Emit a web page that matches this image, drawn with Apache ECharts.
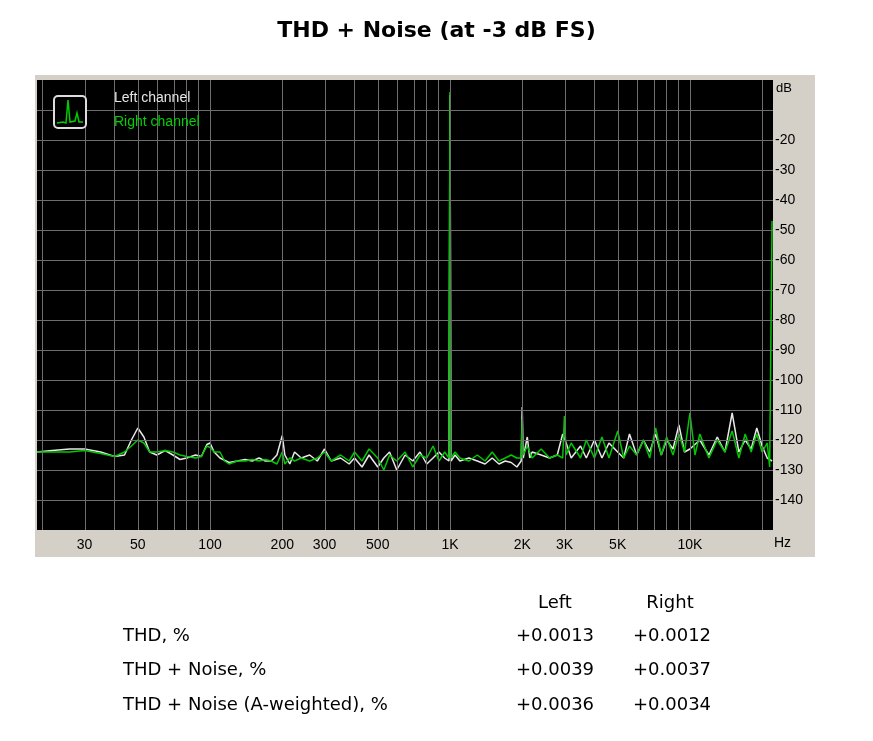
<!DOCTYPE html>
<html><head><meta charset="utf-8">
<script src="https://cdn.jsdelivr.net/npm/echarts@6/dist/echarts.min.js"></script>
<style>html,body{margin:0;padding:0;background:#fff}#c{width:873px;height:741px}</style>
</head><body><div id="c"></div>
<script>
const leftChannel = [[19,-124],[22,-123.5],[26,-123],[30,-123],[35,-124],[40,-125.5],[44,-125],[47,-120],[50,-116],[53,-119],[56,-124],[60,-125],[65,-123.5],[70,-125],[75,-126.5],[80,-126],[87,-125],[92,-125.5],[97,-121.5],[100,-121],[104,-124],[110,-126],[120,-127.5],[130,-127],[140,-126.5],[150,-127],[160,-126],[170,-127],[180,-127],[190,-125],[200,-118.5],[205,-125],[215,-128],[225,-124],[240,-126],[260,-125],[280,-127],[300,-123],[320,-127],[350,-126],[380,-128],[400,-126],[430,-129],[460,-125],[500,-129],[530,-126],[560,-124],[600,-130],[650,-125],[700,-127],[750,-124],[800,-128],[850,-126],[900,-124],[950,-126],[990,-127],[1000,-5],[1010,-127],[1050,-125],[1100,-127],[1200,-126],[1300,-127],[1400,-128],[1500,-126],[1600,-128],[1700,-127],[1800,-127.5],[1900,-129],[1980,-127],[2000,-109],[2020,-126],[2100,-119],[2150,-126],[2200,-124],[2400,-125],[2600,-126],[2800,-125],[2950,-118],[3050,-121],[3200,-126],[3500,-122],[3700,-126],[4000,-120],[4300,-126],[4600,-121],[5000,-124],[5300,-126],[5600,-118],[6000,-125],[6400,-120],[6800,-124],[7200,-118],[7600,-125],[8000,-120],[8500,-123],[9000,-115],[9500,-124],[10000,-123],[11000,-120],[12000,-125],[13000,-119],[14000,-124],[15000,-111],[16000,-124],[17000,-120],[18000,-123],[19000,-116],[20000,-122],[21000,-126],[22000,-127]];
const rightChannel = [[19,-124],[22,-124],[26,-124],[30,-123.5],[35,-124.5],[40,-125.5],[44,-124],[47,-122],[50,-120],[53,-121],[56,-124],[60,-124],[65,-123.5],[70,-124],[75,-125],[80,-125.5],[87,-126],[92,-125.5],[97,-122],[100,-122.5],[104,-124],[110,-124],[115,-127],[120,-128],[130,-127],[140,-127],[150,-126.5],[160,-127],[170,-126.5],[180,-127],[190,-128],[200,-124],[205,-128],[215,-126],[225,-127],[240,-126],[260,-127],[280,-126],[300,-124],[320,-127],[350,-125],[380,-127],[400,-124],[430,-127],[460,-123],[500,-126],[530,-130],[560,-125],[600,-127],[650,-124],[700,-129],[750,-125],[800,-126],[850,-122],[900,-127],[950,-124],[990,-126],[1000,-4],[1010,-126],[1050,-124],[1100,-126],[1200,-127],[1300,-125],[1400,-127],[1500,-124],[1600,-127],[1700,-126],[1800,-125],[1900,-126],[1980,-126],[2000,-113],[2020,-125],[2100,-122],[2200,-126],[2400,-123],[2600,-126],[2800,-125],[2950,-126],[3000,-112],[3050,-125],[3200,-121],[3500,-126],[3700,-120],[4000,-126],[4300,-119],[4600,-126],[5000,-117],[5300,-126],[5600,-122],[6000,-125],[6400,-120],[6800,-126],[7200,-116],[7600,-125],[8000,-119],[8500,-125],[9000,-118],[9500,-124],[10000,-111],[10500,-125],[11000,-118],[12000,-126],[13000,-120],[14000,-124],[15000,-117],[16000,-126],[17000,-118],[18000,-124],[19000,-118],[20000,-124],[21000,-121],[21500,-129],[22000,-47]];
const xTicks = [30,50,100,200,300,500,1000,2000,3000,5000,10000];
const xTickLabels = ['30','50','100','200','300','500','1K','2K','3K','5K','10K'];
const xGrid = [20,30,40,50,60,70,80,90,100,200,300,400,500,600,700,800,900,1000,2000,3000,4000,5000,6000,7000,8000,9000,10000,20000];
const yTicks = [-20,-30,-40,-50,-60,-70,-80,-90,-100,-110,-120,-130,-140];
const yGrid = [-10,-20,-30,-40,-50,-60,-70,-80,-90,-100,-110,-120,-130,-140];
const tableHeader = ['Left','Right'];
const tableRows = ['THD, %','THD + Noise, %','THD + Noise (A-weighted), %'];
const tableLeft = ['+0.0013','+0.0039','+0.0036'];
const tableRight = ['+0.0012','+0.0037','+0.0034'];

const L = v => Math.log10(v);
const chart = echarts.init(document.getElementById('c'));
const font = 'DejaVu Sans';
const graphics = [
  {type:'rect',z:-10,shape:{x:35,y:75,width:780,height:482},style:{fill:'#d4d0c8'}},
  {type:'text',left:'center',top:20,style:{text:'THD + Noise (at -3 dB FS)',font:'bold 22px "DejaVu Sans"',fill:'#000'}},
  {type:'text',x:776,y:82,z:10,style:{text:'dB',font:'13px "Liberation Sans"',fill:'#000'}},
  {type:'text',x:774,y:536,z:10,style:{text:'Hz',font:'14px "Liberation Sans"',fill:'#000'}},
  {type:'rect',z:10,shape:{x:54,y:96,width:32,height:32,r:4},style:{fill:'#000',stroke:'#ddd',lineWidth:2}},
  {type:'polyline',z:11,shape:{points:[[57,123],[63,122],[66,123],[68,100],[70,122],[75,121],[77,113],[79,122],[83,122]]},style:{stroke:'#0c0',lineWidth:1.5,fill:null}},
  {type:'text',x:114,y:91,z:10,style:{text:'Left channel',font:'14px "Liberation Sans"',fill:'#e6e6e6'}},
  {type:'text',x:114,y:115,z:10,style:{text:'Right channel',font:'14px "Liberation Sans"',fill:'#00d000'}},
  {type:'text',x:555,y:603,style:{text:tableHeader[0],font:'18px "DejaVu Sans"',fill:'#000',align:'center',verticalAlign:'middle'}},
  {type:'text',x:670,y:603,style:{text:tableHeader[1],font:'18px "DejaVu Sans"',fill:'#000',align:'center',verticalAlign:'middle'}}
];
tableRows.forEach((r,i)=>{
  const y = 636 + i*34.5;
  graphics.push({type:'text',x:123,y:y,style:{text:r,font:'18px "DejaVu Sans"',fill:'#000',verticalAlign:'middle'}});
  graphics.push({type:'text',x:555,y:y,style:{text:tableLeft[i],font:'18px "DejaVu Sans"',fill:'#000',align:'center',verticalAlign:'middle'}});
  graphics.push({type:'text',x:672,y:y,style:{text:tableRight[i],font:'18px "DejaVu Sans"',fill:'#000',align:'center',verticalAlign:'middle'}});
});
const gridStyle = {color:'#6e6e6e',width:1,type:'solid'};
chart.setOption({
  animation:false,
  graphic:graphics,
  grid:{left:37,right:100,top:80,bottom:211,show:true,backgroundColor:'#000',borderWidth:0},
  xAxis:{type:'value',min:L(19),max:L(22200),axisLine:{show:false},axisTick:{show:false},splitLine:{show:false},
    axisLabel:{customValues:xTicks.map(L),formatter:v=>{const i=xTicks.findIndex(t=>Math.abs(L(t)-v)<1e-6);return i>=0?xTickLabels[i]:'';},color:'#000',fontFamily:'Liberation Sans',fontSize:14,margin:8}},
  yAxis:{type:'value',min:-150,max:0,position:'right',axisLine:{show:false},axisTick:{show:false},splitLine:{show:false},
    axisLabel:{customValues:yTicks,color:'#000',fontFamily:'Liberation Sans',fontSize:14,margin:2,align:'left'}},
  series:[
    {type:'line',data:[],markLine:{silent:true,symbol:'none',label:{show:false},lineStyle:gridStyle,animation:false,
      data:xGrid.map(f=>({xAxis:L(f)})).concat(yGrid.map(v=>({yAxis:v})))}},
    {name:'Left',type:'line',symbol:'none',data:leftChannel.map(p=>[L(p[0]),p[1]]),lineStyle:{color:'#e8e8e8',width:1.5},z:3},
    {name:'Right',type:'line',symbol:'none',data:rightChannel.map(p=>[L(p[0]),p[1]]),lineStyle:{color:'#00c800',width:1.5},z:4}
  ]
});
</script></body></html>
